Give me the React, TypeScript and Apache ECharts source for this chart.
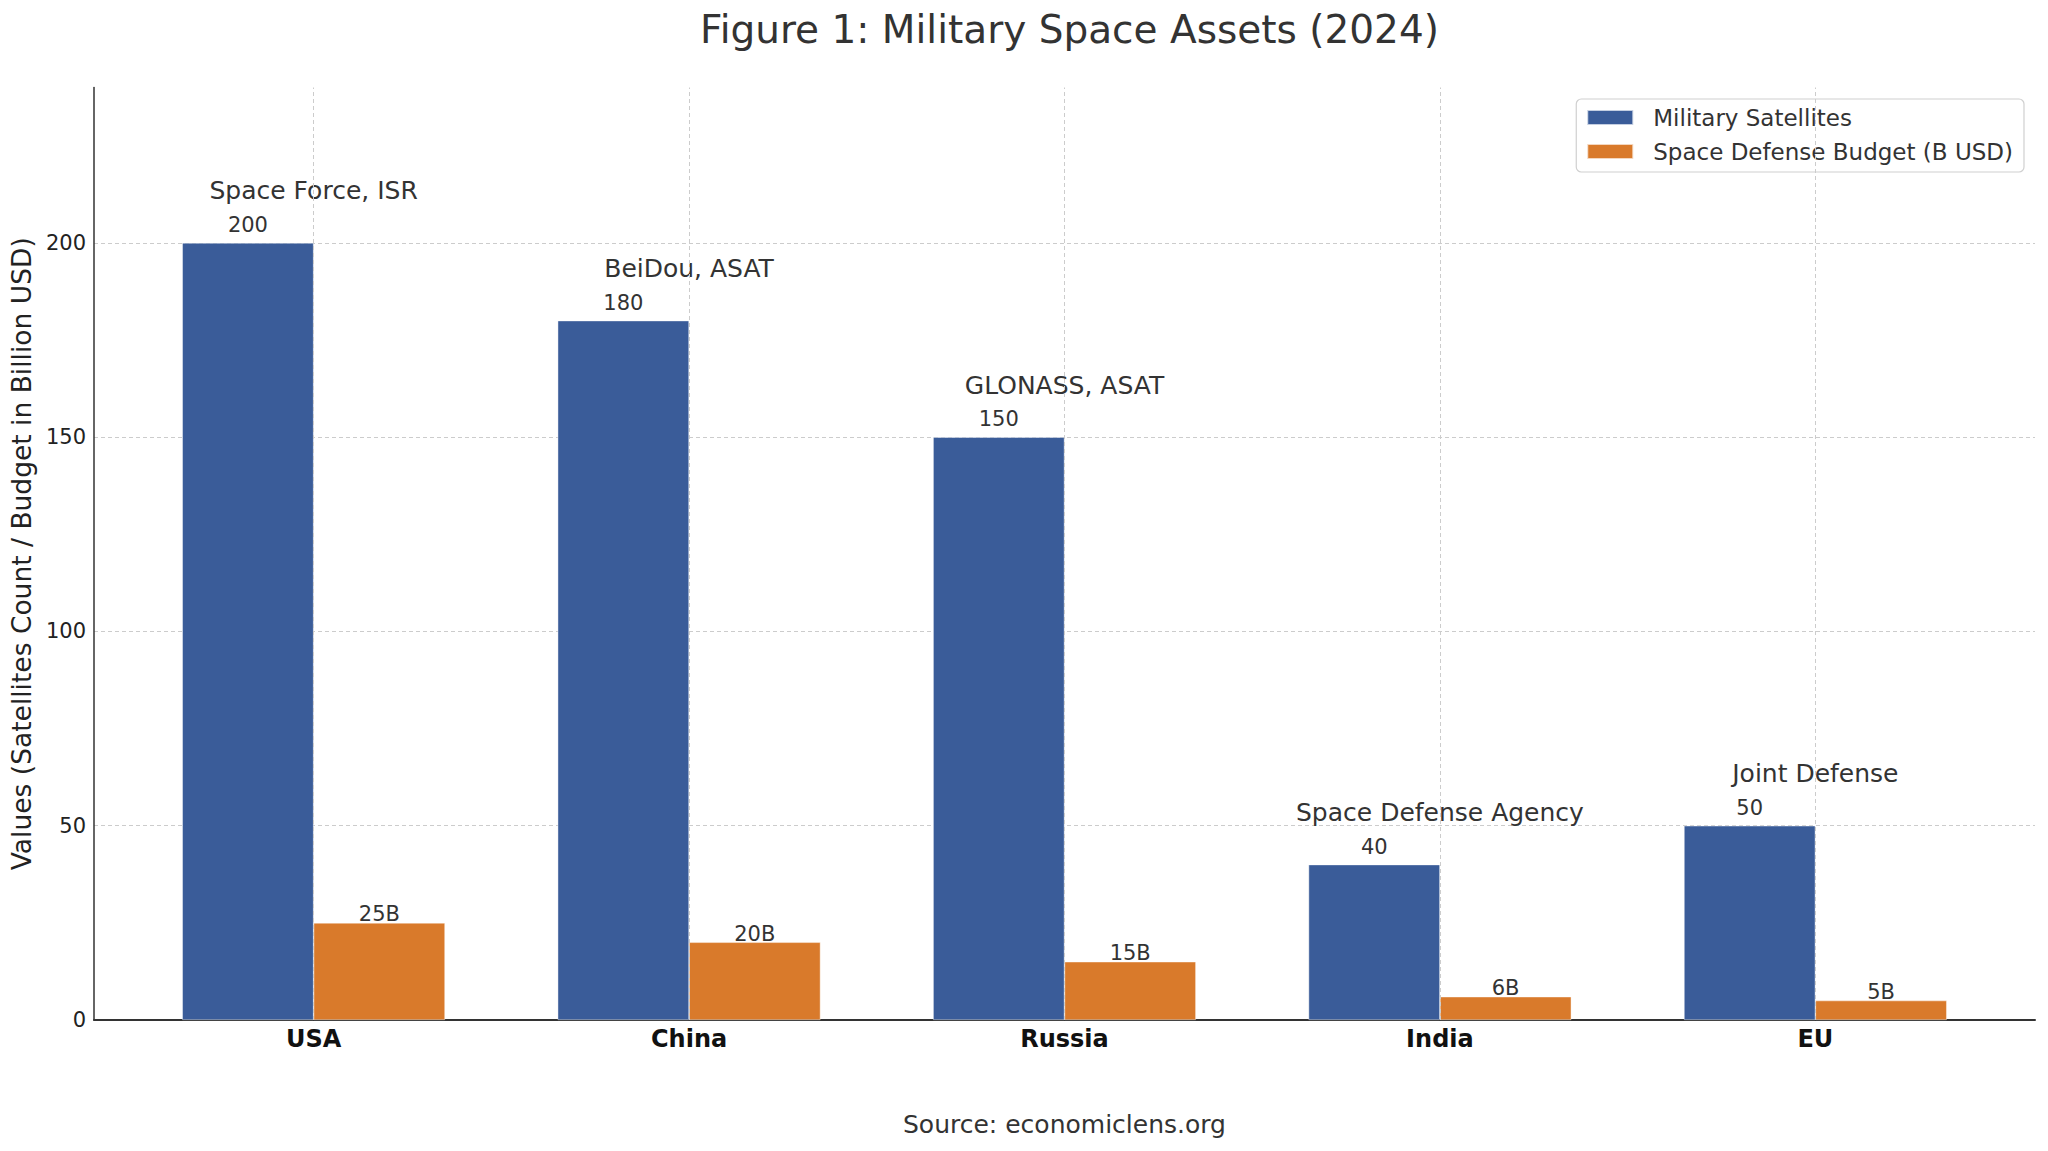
import React, { useEffect, useRef } from 'react';
import * as echarts from 'echarts';

const categories = ['USA', 'China', 'Russia', 'India', 'EU'];
const satellites = [200, 180, 150, 40, 50];
const budgets = [25, 20, 15, 6, 5];
const programs = ['Space Force, ISR', 'BeiDou, ASAT', 'GLONASS, ASAT', 'Space Defense Agency', 'Joint Defense'];
const yTicks = [0, 50, 100, 150, 200];
const seriesNames = ['Military Satellites', 'Space Defense Budget (B USD)'];

export default function App() {
  const ref = useRef<HTMLDivElement>(null);
  useEffect(() => {
    const chart = echarts.init(ref.current!, null, { renderer: 'svg' });
    const font = 'DejaVu Sans';
    const idx = categories.map((_, i) => i);
    const grid = '#cccccc';
    chart.setOption({
      animation: false,
      backgroundColor: '#ffffff',
      title: {
        text: 'Figure 1: Military Space Assets (2024)',
        left: 1064.5,
        top: 5,
        textAlign: 'center',
        textStyle: { fontFamily: font, fontSize: 39, fontWeight: 'normal', color: '#333333' },
      },
      graphic: [
        {
          type: 'text',
          x: 1064.5,
          y: 1124.5,
          style: {
            text: 'Source: economiclens.org',
            fontFamily: font,
            fontSize: 25,
            fill: '#333333',
            textAlign: 'center',
            textVerticalAlign: 'middle',
          },
        },
      ],
      legend: {
        data: seriesNames,
        orient: 'vertical',
        right: 24,
        top: 99,
        icon: 'rect',
        itemWidth: 46,
        itemHeight: 15,
        itemGap: 11,
        padding: [7, 11, 9, 10],
        borderColor: '#d0d0d0',
        borderWidth: 1.2,
        borderRadius: 5,
        backgroundColor: 'rgba(255,255,255,0.8)',
        textStyle: { fontFamily: font, fontSize: 23, color: '#333333', padding: [0, 0, 0, 15] },
      },
      grid: { left: 94, right: 13, top: 87.5, bottom: 131, containLabel: false },
      xAxis: {
        type: 'value',
        min: -0.585,
        max: 4.585,
        axisLine: { show: true, onZero: false, lineStyle: { color: '#333333', width: 2 } },
        axisTick: { show: false },
        splitLine: { show: false },
        axisLabel: {
          customValues: idx,
          formatter: (v: number) => categories[Math.round(v)] ?? '',
          fontFamily: font,
          fontSize: 24,
          fontWeight: 'bold',
          color: '#111111',
          margin: 7,
        },
      },
      yAxis: {
        type: 'value',
        min: 0,
        max: 240,
        interval: 50,
        name: 'Values (Satellites Count / Budget in Billion USD)',
        nameLocation: 'middle',
        nameGap: 53.5,
        nameTextStyle: { fontFamily: font, fontSize: 26.5, color: '#222222' },
        axisLine: { show: true, onZero: false, lineStyle: { color: '#333333', width: 1.5 } },
        axisTick: { show: false },
        axisLabel: {
          customValues: yTicks,
          fontFamily: font,
          fontSize: 21,
          color: '#222222',
          margin: 8,
        },
        splitLine: {
          show: true,
          showMaxLine: false,
          lineStyle: { color: grid, width: 1, type: [4, 3] },
        },
      },
      series: [
        {
          type: 'bar',
          name: seriesNames[0],
          data: satellites.map((v, i) => [i, v]),
          barWidth: 131.4,
          barGap: '0%',
          z: 3,
          itemStyle: { color: '#3A5C99', borderColor: 'rgba(255,255,255,0.7)', borderWidth: 0.6 },
          label: {
            show: true,
            position: 'top',
            distance: 7.5,
            formatter: (p: any) => String(p.value[1]),
            fontFamily: font,
            fontSize: 21,
            color: '#333333',
          },
        },
        {
          type: 'bar',
          name: seriesNames[1],
          data: budgets.map((v, i) => [i, v]),
          barWidth: 131.4,
          barGap: '0%',
          z: 3,
          itemStyle: { color: '#D97A2B', borderColor: 'rgba(255,255,255,0.7)', borderWidth: 0.6 },
          label: {
            show: true,
            position: 'top',
            distance: -2,
            formatter: (p: any) => String(p.value[1]) + 'B',
            fontFamily: font,
            fontSize: 21,
            color: '#333333',
          },
        },
        {
          type: 'scatter',
          data: satellites.map((v, i) => [i, v]),
          symbolSize: 0,
          silent: true,
          z: 1,
          itemStyle: { opacity: 1 },
          label: {
            show: true,
            position: 'top',
            distance: 39.5,
            formatter: (p: any) => programs[p.dataIndex],
            fontFamily: font,
            fontSize: 25,
            color: '#333333',
          },
          markLine: {
            silent: true,
            symbol: ['none', 'none'],
            label: { show: false },
            lineStyle: { color: grid, width: 1, type: [4, 3] },
            data: idx.map((i) => ({ xAxis: i })),
          },
        },
      ],
    });
    return () => chart.dispose();
  }, []);
  return <div ref={ref} style={{ position: 'fixed', left: 0, top: 0, width: 2048, height: 1151 }} />;
}
